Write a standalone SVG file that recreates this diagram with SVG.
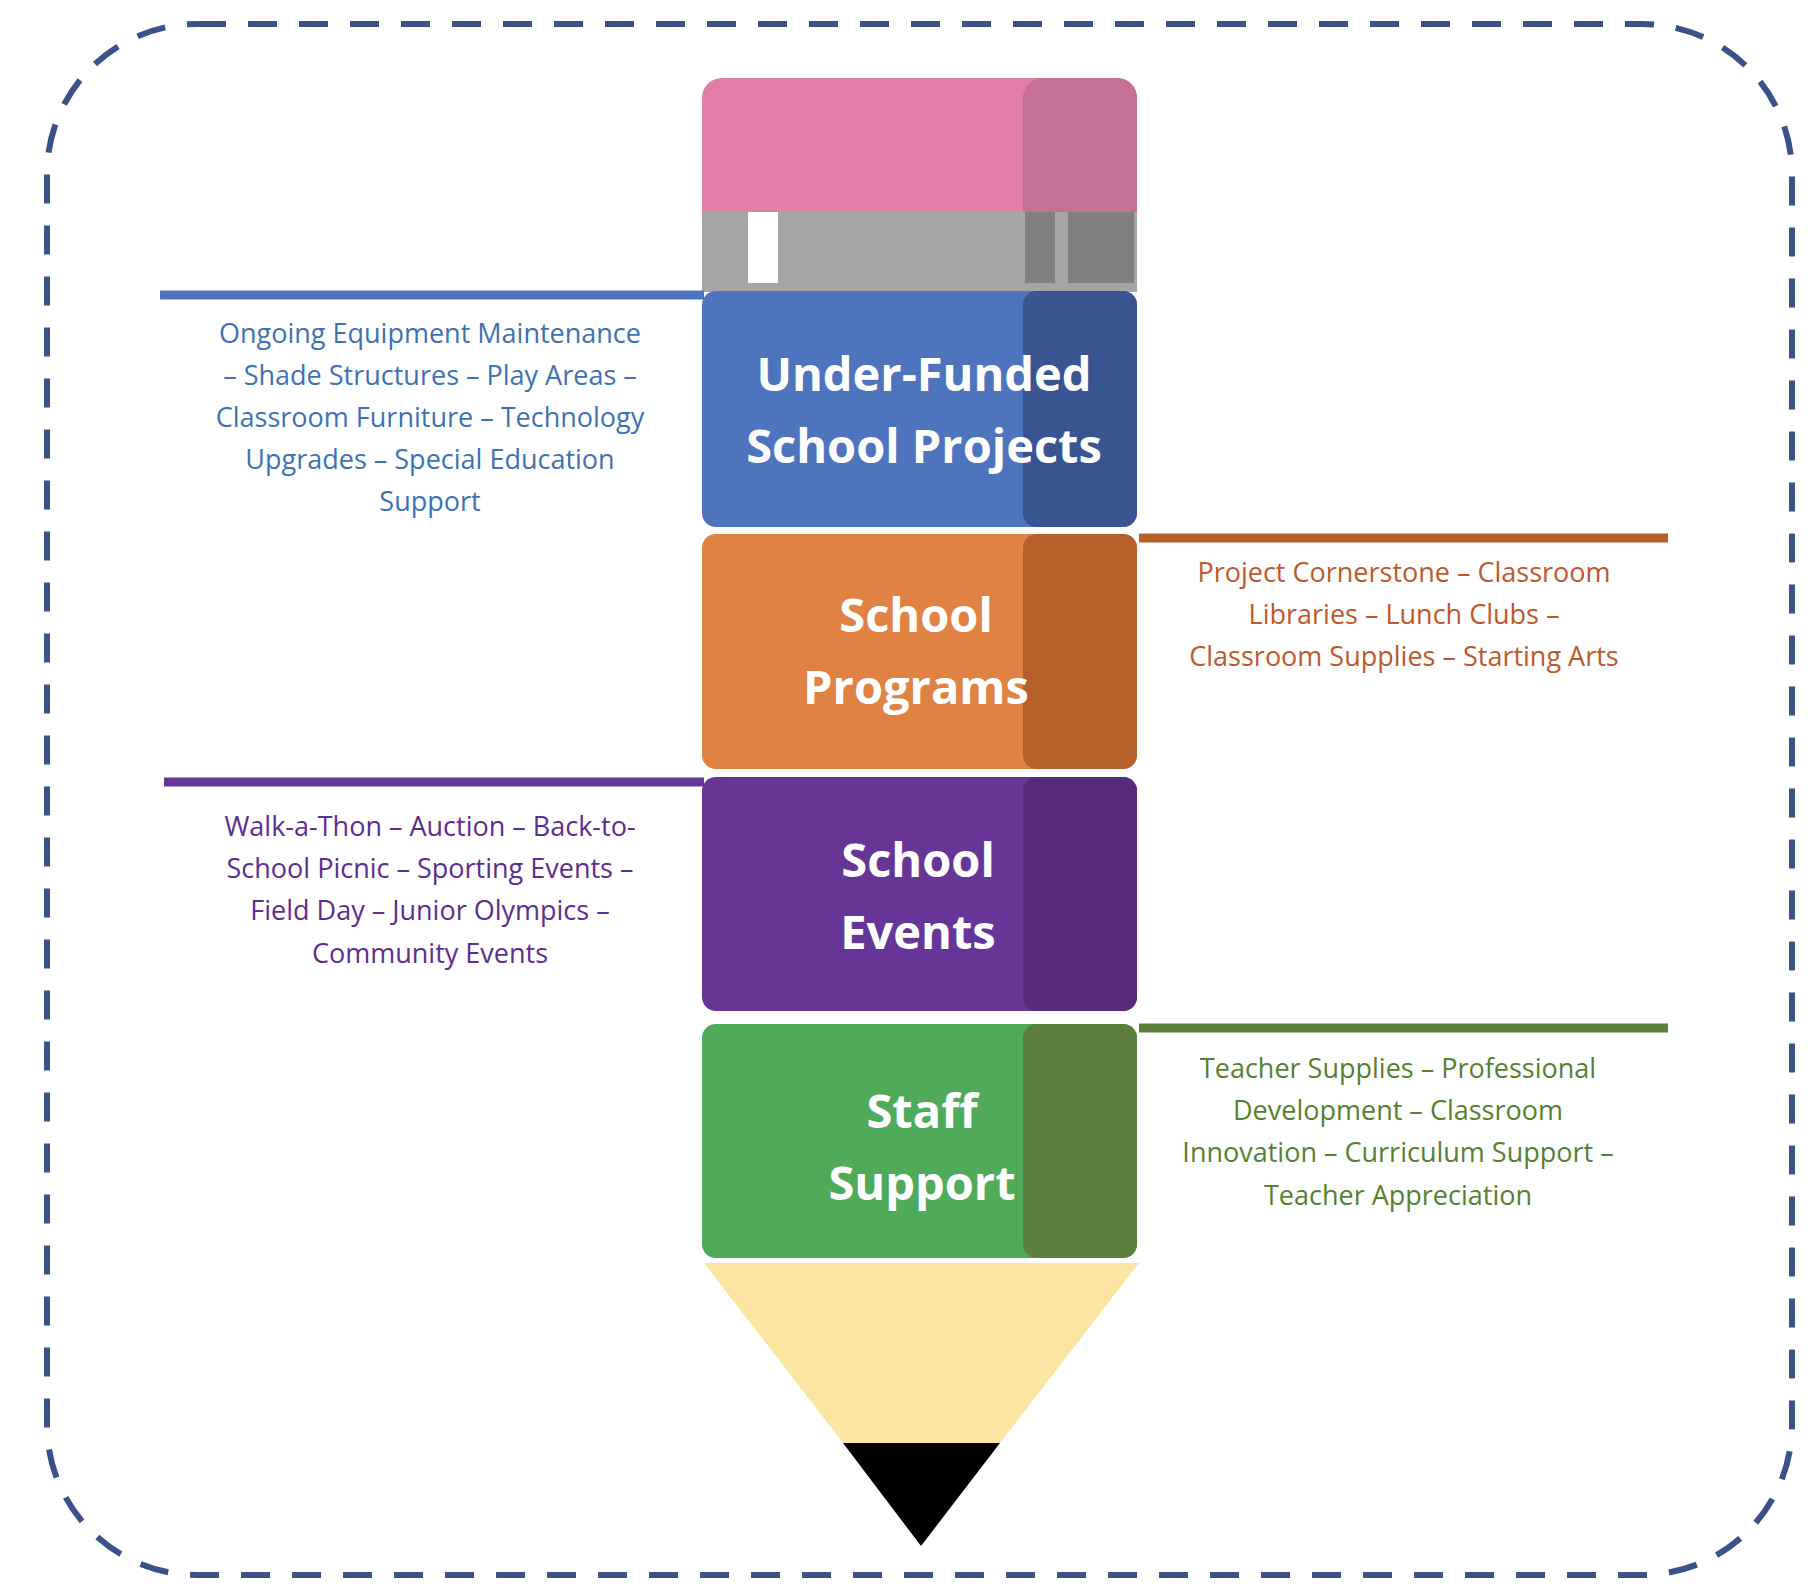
<svg xmlns="http://www.w3.org/2000/svg" width="1818" height="1596" viewBox="0 0 1818 1596">
<style>
.d{font-family:"Open Sans","Noto Sans",sans-serif;font-size:27px;text-anchor:middle}
.t{font-family:"Open Sans","Noto Sans",sans-serif;font-size:47px;font-weight:bold;fill:#fff;text-anchor:middle}
</style>
<rect width="1818" height="1596" fill="#fff"/>
<rect x="47" y="24" width="1745" height="1551" rx="150" fill="none" stroke="#3A5288" stroke-width="6" stroke-dasharray="29 22"/>
<g id="eraser">
<path d="M722 78H1117A20 20 0 0 1 1137 98V212H702V98A20 20 0 0 1 722 78Z" fill="#E27EA8"/>
<path d="M1043 78H1117A20 20 0 0 1 1137 98V212H1023V98A20 20 0 0 1 1043 78Z" fill="#C77096"/>
</g>
<g id="ferrule">
<rect x="702" y="212" width="435" height="80" fill="#A5A5A5"/>
<rect x="748" y="212" width="30" height="71" fill="#fff"/>
<rect x="1025" y="212" width="30" height="71" fill="#7F7F7F"/>
<rect x="1068" y="212" width="66" height="71" fill="#7F7F7F"/>
</g>
<g id="connectors" stroke-width="9">
<line x1="160" y1="295" x2="704" y2="295" stroke="#4E74BE"/>
<line x1="1139" y1="538" x2="1668" y2="538" stroke="#B5602A"/>
<line x1="164" y1="782" x2="704" y2="782" stroke="#663697"/>
<line x1="1139" y1="1028" x2="1668" y2="1028" stroke="#5C7F3D"/>
</g>
<g id="n1">
<rect x="702" y="291" width="435" height="236" rx="14" fill="#4E74BE"/>
<rect x="1023" y="291" width="114" height="236" rx="14" fill="#385592"/>
<text class="t" x="924" y="391">Under-Funded</text>
<text class="t" x="924" y="463">School Projects</text>
<g class="d" fill="#3D72B5">
<text x="430" y="343">Ongoing Equipment Maintenance</text>
<text x="430" y="385">– Shade Structures – Play Areas –</text>
<text x="430" y="427">Classroom Furniture –  Technology</text>
<text x="430" y="469">Upgrades – Special Education</text>
<text x="430" y="511">Support</text>
</g>
</g>
<g id="n2">
<rect x="702" y="534" width="435" height="235" rx="14" fill="#E08244"/>
<rect x="1023" y="534" width="114" height="235" rx="14" fill="#B5602A"/>
<text class="t" x="916" y="632">School</text>
<text class="t" x="916" y="704">Programs</text>
<g class="d" fill="#C0582A">
<text x="1404" y="582">Project Cornerstone – Classroom</text>
<text x="1404" y="624">Libraries – Lunch Clubs –</text>
<text x="1404" y="666">Classroom Supplies – Starting Arts</text>
</g>
</g>
<g id="n3">
<rect x="702" y="777" width="435" height="234" rx="14" fill="#663697"/>
<rect x="1023" y="777" width="114" height="234" rx="14" fill="#552B7A"/>
<text class="t" x="918" y="877">School</text>
<text class="t" x="918" y="949">Events</text>
<g class="d" fill="#5E2D91">
<text x="430" y="836">Walk-a-Thon – Auction – Back-to-</text>
<text x="430" y="878">School Picnic – Sporting Events –</text>
<text x="430" y="920">Field Day – Junior Olympics –</text>
<text x="430" y="963">Community Events</text>
</g>
</g>
<g id="n4">
<rect x="702" y="1024" width="435" height="234" rx="14" fill="#4FAA5A"/>
<rect x="1023" y="1024" width="114" height="234" rx="14" fill="#5C7F3D"/>
<text class="t" x="922" y="1128">Staff</text>
<text class="t" x="922" y="1200">Support</text>
<g class="d" fill="#56812F">
<text x="1398" y="1078">Teacher Supplies – Professional</text>
<text x="1398" y="1120">Development – Classroom</text>
<text x="1398" y="1162">Innovation – Curriculum Support –</text>
<text x="1398" y="1205">Teacher Appreciation</text>
</g>
</g>
<g id="tip">
<polygon points="704,1263 1139,1263 1000,1443 843,1443" fill="#FAE5A2"/>
<polygon points="843,1443 1000,1443 921,1546" fill="#000"/>
</g>
</svg>
